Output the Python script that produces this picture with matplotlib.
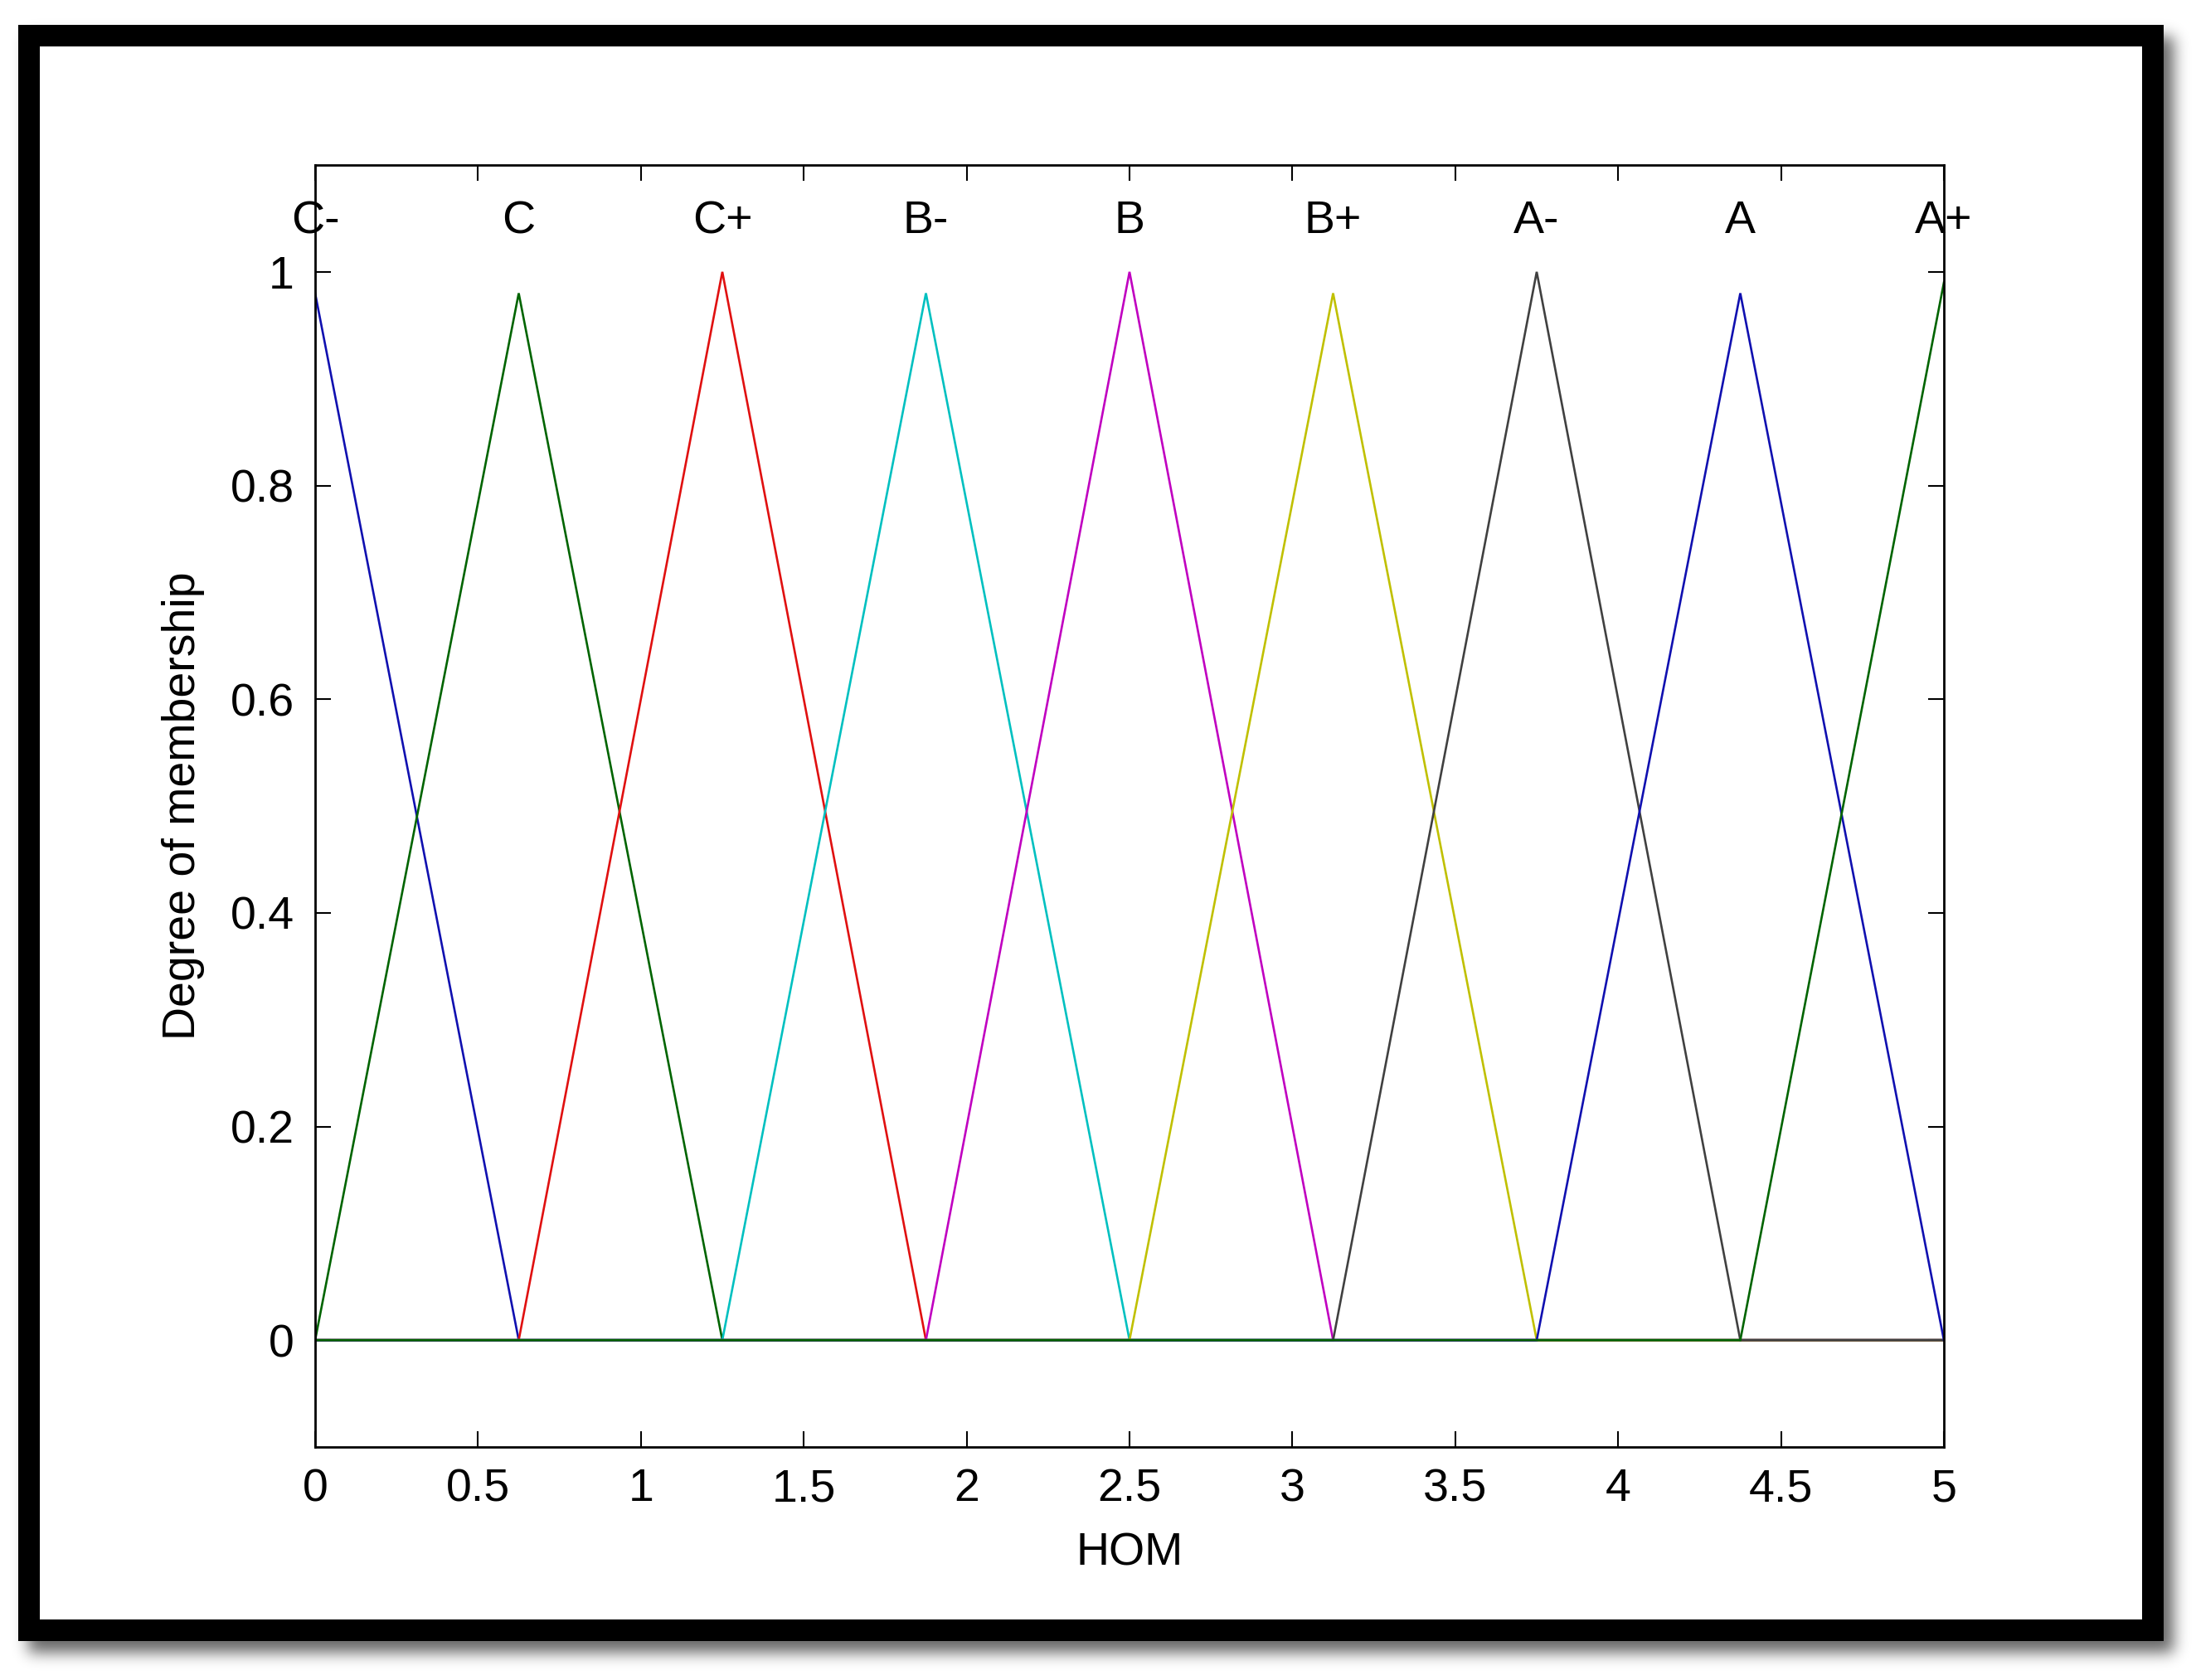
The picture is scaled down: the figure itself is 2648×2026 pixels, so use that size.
import numpy as np
import matplotlib
matplotlib.use('Agg')
import matplotlib.pyplot as plt
from matplotlib.patches import Rectangle

plt.rcParams['font.family'] = ['Liberation Sans Narrow', 'Liberation Sans', 'DejaVu Sans']

# membership functions (triangles) of the HOM variable
mf_labels = ['C-', 'C', 'C+', 'B-', 'B', 'B+', 'A-', 'A', 'A+']
mf_centers = [0.0, 0.625, 1.25, 1.875, 2.5, 3.125, 3.75, 4.375, 5.0]
mf_half_width = 0.625
mf_peaks = [0.98, 0.98, 1.0, 0.98, 1.0, 0.98, 1.0, 0.98, 0.99]
mf_colors = ['#1010b0', '#006400', '#e01010', '#00c0c0', '#c000c0',
             '#c0c000', '#404040', '#1010b0', '#006400']

x_ticks = [0, 0.5, 1, 1.5, 2, 2.5, 3, 3.5, 4, 4.5, 5]
x_tick_labels = ['0', '0.5', '1', '1.5', '2', '2.5', '3', '3.5', '4', '4.5', '5']
y_ticks = [0, 0.2, 0.4, 0.6, 0.8, 1]
y_tick_labels = ['0', '0.2', '0.4', '0.6', '0.8', '1']

W, H = 2648, 2026
fig = plt.figure(figsize=(W / 100, H / 100), dpi=100)
fig.patch.set_facecolor('white')

# drop shadow behind the black frame (blurred rectangle, bottom-right offset)
def blurred_step(n, lo, hi, sigma):
    ind = np.zeros(n)
    ind[int(lo):int(hi)] = 1.0
    k = np.arange(-3 * sigma, 3 * sigma + 1)
    g = np.exp(-0.5 * (k / sigma) ** 2)
    g /= g.sum()
    return np.convolve(ind, g, mode='same')

fx = blurred_step(W, 22 + 12, 2609 + 12, 9)
fy = blurred_step(H, 30 + 14, 1979 + 14, 9)
shadow = np.outer(fy, fx) * 0.6
rgba = np.zeros((H, W, 4))
rgba[..., 3] = shadow
bg = fig.add_axes([0, 0, 1, 1])
bg.imshow(rgba, extent=[0, W, H, 0], interpolation='bilinear')
bg.set_xlim(0, W)
bg.set_ylim(H, 0)
bg.axis('off')
bg.add_patch(Rectangle((22, 30), 2609 - 22, 1979 - 30, facecolor='black', edgecolor='none'))
bg.add_patch(Rectangle((48, 56), 2583 - 48, 1953 - 56, facecolor='white', edgecolor='none'))

ax = fig.add_axes([380 / W, 1 - 1745 / H, (2344 - 380) / W, (1745 - 199) / H])
ax.set_facecolor('white')

for c, h, col in zip(mf_centers, mf_peaks, mf_colors):
    vx = [c - mf_half_width, c, c + mf_half_width]
    xs = sorted(set([0.0, 5.0] + [v for v in vx if 0 <= v <= 5]))
    ys = np.interp(xs, vx, [0, h, 0])
    ax.plot(xs, ys, color=col, linewidth=1.9, solid_joinstyle='miter')

for lab, c in zip(mf_labels, mf_centers):
    ax.text(c, 1.047, lab, ha='center', va='center', fontsize=40, clip_on=False)

ax.set_xlim(0, 5)
ax.set_ylim(-0.1, 1.1)
ax.set_xticks(x_ticks)
ax.set_xticklabels(x_tick_labels)
ax.set_yticks(y_ticks)
ax.set_yticklabels(y_tick_labels)
ax.tick_params(direction='in', length=14, width=1.5, top=True, right=True,
               labelsize=40, pad=18)
for s in ax.spines.values():
    s.set_linewidth(2)

ax.set_xlabel('HOM', fontsize=40, labelpad=18)
ax.set_ylabel('Degree of membership', fontsize=40, labelpad=22)

fig.savefig('out.png', dpi=100)
